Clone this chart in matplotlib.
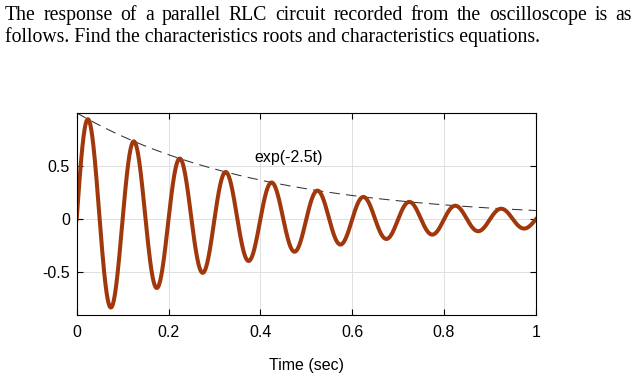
import numpy as np
import matplotlib

matplotlib.use("Agg")
import matplotlib.pyplot as plt

# envelope label exp(-2.5t), peaks every 0.1 s
decay_rate = 2.5
osc_freq_hz = 10.0
t_start, t_end = 0.0, 1.0

x_ticks = [0, 0.2, 0.4, 0.6, 0.8, 1]
x_tick_labels = ["0", "0.2", "0.4", "0.6", "0.8", "1"]
y_ticks = [-0.5, 0, 0.5]
y_tick_labels = ["-0.5", "0", "0.5"]

header_lines = [
    "The response of a parallel RLC circuit recorded from the oscilloscope is as",
    "follows. Find the characteristics roots and characteristics equations.",
]

t = np.linspace(t_start, t_end, 2000)
envelope = np.exp(-decay_rate * t)
response = envelope * np.sin(2 * np.pi * osc_freq_hz * t)

fig = plt.figure(figsize=(6.36, 3.8), dpi=100)

# header text, first line justified to full width
renderer = fig.canvas.get_renderer()
left_px, right_px = 5, 632
words = header_lines[0].split(" ")
word_texts = [fig.text(0, 0, w, family="Liberation Serif", fontsize=14.2) for w in words]
widths = [wt.get_window_extent(renderer).width for wt in word_texts]
gap = (right_px - left_px - sum(widths)) / (len(words) - 1)
x_px = left_px
for wt, w in zip(word_texts, widths):
    wt.set_position((x_px / 636, 1 - 20 / 380))
    x_px += w + gap
fig.text(left_px / 636, 1 - 42 / 380, header_lines[1], family="Liberation Serif", fontsize=14.2)

ax = fig.add_axes([0.1206, 0.171, 0.722, 0.532])
ax.plot(t, envelope, color="#333333", linestyle=(0, (10, 6)), linewidth=0.75)
ax.plot(t, response, color="#A0380C", linewidth=2.9)
ax.text(0.388, 0.58, "exp(-2.5t)", family="Liberation Sans", fontsize=11.5, va="center")

ax.set_xlim(0, 1)
ax.set_ylim(-0.9, 1.0)
ax.set_xticks(x_ticks, x_tick_labels, family="Liberation Sans", fontsize=11.5)
ax.set_yticks(y_ticks, y_tick_labels, family="Liberation Sans", fontsize=11.5)
ax.set_xlabel("Time (sec)", family="Liberation Sans", fontsize=11.5, labelpad=13)
ax.tick_params(direction="in", top=True, right=True, length=4, width=0.8)
ax.tick_params(axis="x", pad=7)
ax.tick_params(axis="y", pad=5)
ax.grid(True, color="#e0e0e0", linewidth=0.7)
ax.set_axisbelow(True)
for spine in ax.spines.values():
    spine.set_linewidth(0.8)

fig.savefig("out.png", dpi=100)
